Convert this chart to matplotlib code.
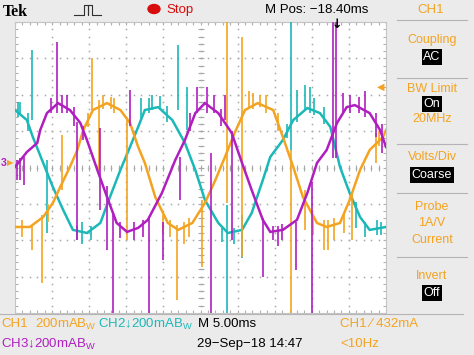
import numpy as np
import matplotlib
matplotlib.use('Agg')
import matplotlib.pyplot as plt
from matplotlib.patches import Circle
from matplotlib.lines import Line2D

# ---------------- data (time in ms across screen, current in mA) ----------------
ch1_t = [0.0, 2.0, 3.8, 5.1, 6.1, 7.4, 8.4, 9.2, 10.5, 12.4, 14.2, 15.5, 16.6, 17.5, 18.9, 20.6,
         22.0, 23.9, 25.6, 27.0, 28.3, 29.6, 31.0, 32.7, 34.8, 36.1, 37.5, 38.8, 40.7, 42.0, 43.8,
         45.1, 46.5, 47.8, 49.6, 50.0]
ch1_i = [-327, -327, -272, -195, -107, 3, 96, 206, 316, 354, 316, 245, 113, 25, -162, -305,
         -343, -305, -195, -69, 58, 190, 316, 354, 316, 168, 3, -162, -305, -327, -305,
         -179, -14, 96, 168, 206]

ch2_t = [0.0, 1.6, 2.4, 3.8, 5.1, 6.5, 7.8, 9.7, 11.5, 12.8, 14.2, 15.5, 16.6, 17.5, 19.3, 21.2,
         22.9, 24.3, 25.6, 27.4, 28.7, 30.6, 31.9, 33.4, 34.4, 36.1, 37.5, 39.4, 41.1, 42.5, 43.8,
         45.1, 46.5, 47.8, 50.0]
ch2_i = [316, 261, 168, 25, -107, -234, -343, -360, -305, -162, -14, 113, 223, 316, 332, 261,
         135, -14, -179, -305, -360, -343, -250, -69, 58, 151, 261, 327, 299, 223, 3,
         -140, -272, -343, -327]

ch3_t = [0.0, 1.6, 3.0, 3.4, 4.3, 5.8, 7.4, 8.8, 9.7, 11.1, 12.4, 13.7, 15.1, 16.6, 17.9, 19.8,
         21.6, 22.9, 24.3, 25.6, 27.4, 29.2, 30.6, 31.9, 33.4, 34.4, 36.1, 38.0, 39.4, 40.7, 42.0,
         43.4, 44.7, 45.8, 47.8, 49.2, 50.0]
ch3_i = [3, 85, 135, 206, 299, 354, 316, 245, 151, -14, -162, -305, -354, -332, -288, -140,
         41, 151, 299, 354, 299, 190, 25, -124, -288, -354, -343, -288, -140, 25, 96,
         245, 332, 343, 299, 206, 113]

# switching spikes and noise: time, top, bottom (mA)
ch1_spk_t  = [28.6, 30.6, 10.4, 6.3, 3.6, 2.3, 37.2, 21.8, 15.1, 25.2, 11.3, 39.1, 41.6, 42.2, 45.4,
              48.7, 13.3, 33.0, 20.0,
              1.0, 4.5, 9.9, 11.8, 13.0, 20.9, 22.8, 23.4, 31.6, 32.1, 33.8, 35.4, 40.2, 43.0, 44.4, 49.0]
ch1_spk_hi = [800, 717, 602, 179, -261, -316, 96, -316, 261, -179, 371, -124, -288, -288, -151,
              190, 380, 400, -260,
              -290, -200, 300, 400, 390, -290, -300, -280, 420, 410, 400, 300, -270, -280, -250, 200]
ch1_spk_lo = [-195, -492, 316, -124, -635, -453, -800, -728, -398, -547, -14, -343, -453, -453, -398,
              25, 300, 330, -360,
              -380, -300, 220, 320, 320, -380, -420, -380, 320, 320, 300, 200, -370, -400, -360, 120]

ch2_spk_t  = [2.3, 22.0, 37.2, 28.6, 30.6, 4.3, 18.5, 23.2, 19.5, 38.0, 39.1, 39.8, 0.7, 1.8, 48.8,
              9.0, 46.0,
              0.4, 8.4, 10.2, 17.0, 18.0, 20.5, 27.9, 29.5, 36.6, 40.3, 41.6, 47.2, 49.3]
ch2_spk_hi = [646, 673, 800, -206, -261, 41, 398, 442, 395, 426, 453, 442, 360, 300, -290,
              -300, -190,
              360, -320, -320, 380, 380, 340, -330, -330, 240, 380, 330, -300, -300]
ch2_spk_lo = [261, 316, 96, -800, -497, -360, 316, 206, 320, 250, 310, 300, 290, 200, -370,
              -420, -330,
              280, -400, -400, 270, 300, 250, -410, -420, 160, 290, 240, -380, -370]

ch3_spk_t  = [5.7, 15.5, 8.4, 11.5, 12.4, 13.2, 18.1, 19.9, 22.2, 26.4, 29.2, 33.4, 37.9, 40.0,
              42.9, 43.3, 24.5, 25.9, 28.3, 44.2, 7.0, 0.7, 1.2, 0.3, 47.2, 48.6, 36.0,
              4.8, 6.4, 7.9, 9.2, 14.2, 16.0, 17.2, 23.6, 26.8, 27.8, 34.8, 35.5, 45.2, 46.4, 49.5]
ch3_spk_hi = [690, 426, 250, 217, -100, -250, -280, -300, 60, 80, 200, -280, -300, -80,
              800, 800, 442, 442, 398, 409, 398, 50, 60, 40, 420, 300, -310,
              380, 400, 330, 230, -300, -300, -290, 300, 400, 320, -320, -320, 400, 390, 240]
ch3_spk_lo = [300, 230, -398, -234, -453, -800, -800, -508, -179, -800, -398, -602, -563, -800,
              50, 50, 300, 300, 260, 300, 300, -69, -96, -70, 280, 170, -400,
              300, 300, 230, 150, -390, -400, -380, 200, 300, 230, -400, -430, 300, 300, 80]

# text
top_labels = ["Tek", "Stop", "M Pos: \u221218.40ms", "CH1"]
menu_items = [("Coupling", 40, False), ("AC", 57, True), ("BW Limit", 89, False), ("On", 104, True),
              ("20MHz", 119, False), ("Volts/Div", 157, False), ("Coarse", 175, True),
              ("Probe", 207, False), ("1A/V", 223, False), ("Current", 240, False),
              ("Invert", 276, False), ("Off", 293, True)]

ORANGE = '#f4a320'
CYAN = '#1cb8b8'
PURPLE = '#b01ec0'

W, H = 474, 355
fig = plt.figure(figsize=(W / 100, H / 100), dpi=100)
fig.patch.set_facecolor('#ebebeb')
FONT = 'Liberation Sans'


def fx(px):
    return px / W


def fy(py):
    return 1 - py / H


ax = fig.add_axes([fx(15), fy(313), fx(386) - fx(15), fy(22) - fy(313)])
ax.set_facecolor('white')
ax.set_xlim(0, 50)
ax.set_ylim(-800, 800)
ax.set_xticks([])
ax.set_yticks([])
for s in ax.spines.values():
    s.set_color('#c4c4c4')
    s.set_linewidth(0.8)

# graticule dots
sub_y = np.arange(-800, 801, 40)
sub_x = np.arange(0, 50.01, 1)
for gx in np.arange(5, 50, 5):
    ax.plot(np.full_like(sub_y, gx, dtype=float), sub_y, ls='none', marker='s', ms=1.1,
            mec='none', mfc='#a8a8a8', zorder=1)
for gy in np.arange(-600, 801, 200):
    ax.plot(sub_x, np.full_like(sub_x, gy, dtype=float), ls='none', marker='s', ms=1.1,
            mec='none', mfc='#a8a8a8', zorder=1)
# centre-line ticks
ax.plot(sub_x, np.zeros_like(sub_x), ls='none', marker='|', ms=4, mew=0.8, color='#a8a8a8', zorder=1)
ax.plot(np.full_like(sub_y, 25, dtype=float), sub_y, ls='none', marker='_', ms=4, mew=0.8,
        color='#a8a8a8', zorder=1)
# border ticks
for yy in (800, -800):
    ax.plot(sub_x, np.full_like(sub_x, yy, dtype=float), ls='none', marker='|', ms=5, mew=0.8,
            color='#b0b0b0', zorder=1, clip_on=True)
for xx in (0, 50):
    ax.plot(np.full_like(sub_y, xx, dtype=float), sub_y, ls='none', marker='_', ms=5, mew=0.8,
            color='#b0b0b0', zorder=1, clip_on=True)

# traces
for t, i, st, shi, slo, c, z in [(ch2_t, ch2_i, ch2_spk_t, ch2_spk_hi, ch2_spk_lo, CYAN, 3),
                                  (ch1_t, ch1_i, ch1_spk_t, ch1_spk_hi, ch1_spk_lo, ORANGE, 4),
                                  (ch3_t, ch3_i, ch3_spk_t, ch3_spk_hi, ch3_spk_lo, PURPLE, 5)]:
    ax.plot(t, i, color=c, lw=1.8, zorder=z, solid_joinstyle='miter')
    ax.vlines(st, slo, shi, color=c, lw=1.2, zorder=z)

# top bar
fig.text(fx(3), fy(12), top_labels[0], family='Liberation Serif', weight='bold', fontsize=11.5,
         va='center', ha='left', color='black')
fig.add_artist(Line2D([fx(x) for x in (74, 84, 84, 88, 88, 88, 92, 92, 101)],
                      [fy(y) for y in (15, 15, 5, 5, 15, 5, 5, 15, 15)], color='#303030', lw=0.8))
fig.add_artist(Circle((fx(154), fy(9)), 6 / W, transform=fig.transFigure, color='#d80c0c'))
fig.text(fx(166), fy(10), top_labels[1], family=FONT, fontsize=9.5, color='#d80c0c', va='center')
fig.text(fx(265), fy(10), top_labels[2], family=FONT, fontsize=9.5, color='black', va='center')
fig.text(fx(431), fy(10), top_labels[3], family=FONT, fontsize=9.5, color=ORANGE, va='center', ha='center')

# right menu
for sy in (20, 78, 144, 193, 257):
    fig.add_artist(Line2D([fx(397), fx(467)], [fy(sy), fy(sy)], color='#b4b4b4', lw=0.8))
for label, yy, boxed in menu_items:
    if boxed:
        fig.text(fx(432), fy(yy), label, family=FONT, fontsize=9, color='white', ha='center',
                 va='center', bbox=dict(facecolor='black', edgecolor='none', pad=1.2))
    else:
        fig.text(fx(432), fy(yy), label, family=FONT, fontsize=9, color=ORANGE, ha='center', va='center')

# markers
fig.text(fx(1), fy(163), "3", family=FONT, fontsize=7.5, weight='bold', color=PURPLE, va='center')
fig.text(fx(7), fy(163), "\u25b6", family='DejaVu Sans', fontsize=6, color=ORANGE, va='center')
fig.text(fx(381), fy(87), "\u25c0", family='DejaVu Sans', fontsize=7, color=ORANGE, va='center', ha='center')
fig.text(fx(337), fy(25), "\u2193", family='DejaVu Sans', fontsize=9, weight='bold', color='black',
         va='center', ha='center')

# bottom
fig.add_artist(Line2D([fx(0), fx(463)], [fy(314), fy(314)], color='#b4b4b4', lw=0.8))
bw = r"$\mathregular{B_W}$"
fig.text(fx(1), fy(324), "CH1", family=FONT, fontsize=9.5, color=ORANGE, va='center')
fig.text(fx(35), fy(324), "200mA" + bw, family=FONT, fontsize=9.5, color=ORANGE, va='center')
fig.text(fx(98), fy(324), "CH2\u2193200mA" + bw, family=FONT, fontsize=9.5, color=CYAN, va='center')
fig.text(fx(198), fy(324), "M 5.00ms", family=FONT, fontsize=9.5, color='black', va='center')
fig.text(fx(340), fy(324), "CH1 \u2215 432mA", family=FONT, fontsize=9.5, color=ORANGE, va='center')
fig.text(fx(1), fy(344), "CH3\u2193200mA" + bw, family=FONT, fontsize=9.5, color=PURPLE, va='center')
fig.text(fx(197), fy(344), "29\u2212Sep\u221218 14:47", family=FONT, fontsize=9.5, color='black', va='center')
fig.text(fx(340), fy(344), "<10Hz", family=FONT, fontsize=9.5, color=ORANGE, va='center')

fig.savefig('out.png', dpi=100, facecolor=fig.get_facecolor())
